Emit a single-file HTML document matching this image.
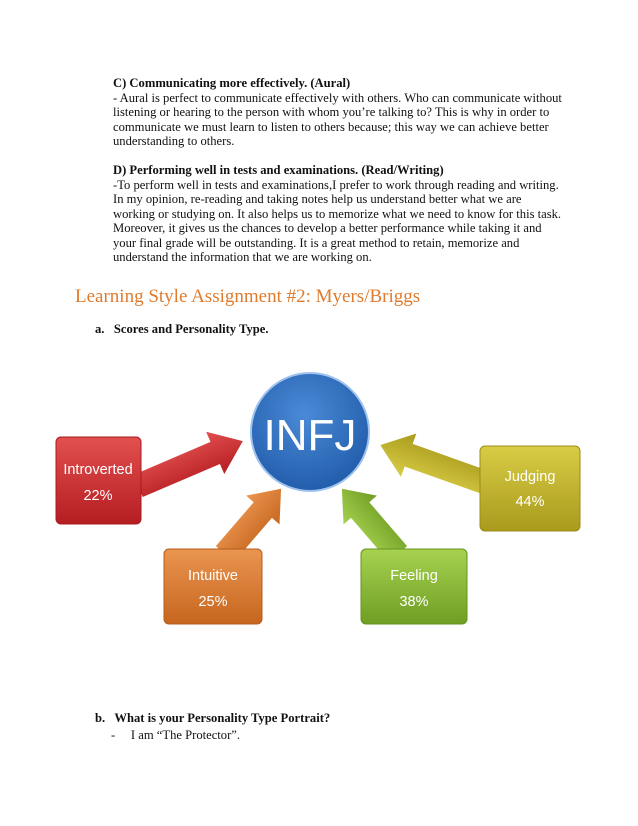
<!DOCTYPE html>
<html><head><meta charset="utf-8"><style>
body{margin:0;background:#fff;width:638px;height:826px;position:relative;overflow:hidden;font-family:"Liberation Serif",serif;color:#111}
.t{position:absolute;left:113px;font-size:12.6px;line-height:14.5px;white-space:nowrap}
b{font-weight:bold}
</style></head><body>
<div class="t" style="top:76px"><b>C) Communicating more effectively. (Aural)</b><br>- Aural is perfect to communicate effectively with others. Who can communicate without<br>listening or hearing to the person with whom you’re talking to? This is why in order to<br>communicate we must learn to listen to others because; this way we can achieve better<br>understanding to others.</div>
<div class="t" style="top:163px"><b>D) Performing well in tests and examinations. (Read/Writing)</b><br>-To perform well in tests and examinations,I prefer to work through reading and writing.<br>In my opinion, re-reading and taking notes help us understand better what we are<br>working or studying on. It also helps us to memorize what we need to know for this task.<br>Moreover, it gives us the chances to develop a better performance while taking it and<br>your final grade will be outstanding. It is a great method to retain, memorize and<br>understand the information that we are working on.</div>
<div style="position:absolute;left:75px;top:286px;font-size:19px;color:#e07b2e;white-space:nowrap">Learning Style Assignment #2: Myers/Briggs</div>
<div class="t" style="top:322px;left:95px"><b>a.&nbsp;&nbsp; Scores and Personality Type.</b></div>
<div class="t" style="top:711px;left:95px"><b>b.&nbsp;&nbsp; What is your Personality Type Portrait?</b></div>
<div class="t" style="top:728px;left:111px">-&nbsp;&nbsp;&nbsp;&nbsp; I am “The Protector”.</div>
<svg width="638" height="826" style="position:absolute;left:0;top:0" font-family="Liberation Sans, sans-serif">
<defs>
<linearGradient id="r" x1="0" y1="0" x2="0" y2="1"><stop offset="0" stop-color="#e2504f"/><stop offset="1" stop-color="#b51d22"/></linearGradient>
<linearGradient id="o" x1="0" y1="0" x2="0" y2="1"><stop offset="0" stop-color="#ea9550"/><stop offset="1" stop-color="#c6661f"/></linearGradient>
<linearGradient id="g" x1="0" y1="0" x2="0" y2="1"><stop offset="0" stop-color="#a6d24f"/><stop offset="1" stop-color="#6f9e24"/></linearGradient>
<linearGradient id="y" x1="0" y1="0" x2="0" y2="1"><stop offset="0" stop-color="#d8cc45"/><stop offset="1" stop-color="#a99a1c"/></linearGradient>
<radialGradient id="c" cx="0.45" cy="0.35" r="0.7"><stop offset="0" stop-color="#4a8ad6"/><stop offset="1" stop-color="#1f5aa8"/></radialGradient>
</defs>
<g transform="translate(138,486) rotate(-23.2)"><polygon points="0,-12 84,-12 84,-23 114,0 84,23 84,12 0,12" fill="url(#r)"/></g>
<g transform="translate(484,482) rotate(-160.4)"><polygon points="0,-12 80,-12 80,-23 110,0 80,23 80,12 0,12" fill="url(#y)"/></g>
<g transform="translate(225,554) rotate(-49.3)"><polygon points="0,-12 58,-12 58,-22 86,0 58,22 58,12 0,12" fill="url(#o)"/></g>
<g transform="translate(398,554) rotate(-130.7)"><polygon points="0,-12 58,-12 58,-22 86,0 58,22 58,12 0,12" fill="url(#g)"/></g>
<circle cx="310" cy="432" r="59" fill="url(#c)" stroke="#9fc3ee" stroke-width="2"/>
<text x="310" y="450" font-size="44" fill="#fff" text-anchor="middle">INFJ</text>
<rect x="56" y="437" width="85" height="87" rx="5" fill="url(#r)" stroke="#a81a1e"/>
<text x="98" y="474" font-size="14.5" fill="#fff" text-anchor="middle">Introverted</text>
<text x="98" y="500" font-size="14.5" fill="#fff" text-anchor="middle">22%</text>
<rect x="480" y="446" width="100" height="85" rx="5" fill="url(#y)" stroke="#9a8c18"/>
<text x="530" y="481" font-size="14.5" fill="#fff" text-anchor="middle">Judging</text>
<text x="530" y="506" font-size="14.5" fill="#fff" text-anchor="middle">44%</text>
<rect x="164" y="549" width="98" height="75" rx="5" fill="url(#o)" stroke="#b45c1c"/>
<text x="213" y="580" font-size="14.5" fill="#fff" text-anchor="middle">Intuitive</text>
<text x="213" y="606" font-size="14.5" fill="#fff" text-anchor="middle">25%</text>
<rect x="361" y="549" width="106" height="75" rx="5" fill="url(#g)" stroke="#66921f"/>
<text x="414" y="580" font-size="14.5" fill="#fff" text-anchor="middle">Feeling</text>
<text x="414" y="606" font-size="14.5" fill="#fff" text-anchor="middle">38%</text>
</svg>
</body></html>
